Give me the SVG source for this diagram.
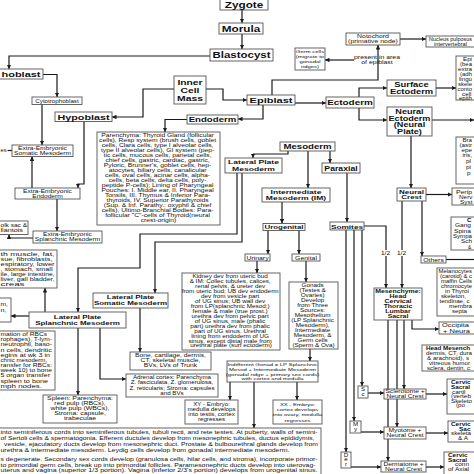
<svg xmlns="http://www.w3.org/2000/svg" width="474" height="474" viewBox="0 0 474 474">
<style>
.bx{fill:#fff;stroke:#555;stroke-width:.9}
.ln{fill:none;stroke:#1a1a1a;stroke-width:1.2}
.ar{marker-end:url(#a)}
text{font-family:"Liberation Sans",Arial,sans-serif;fill:#111}
.B{font-weight:bold}
.m{text-anchor:middle}
.e{text-anchor:end}
.lb{fill:#fff}
</style>
<defs>
<marker id="a" viewBox="0 0 10 10" refX="10" refY="5" markerWidth="4.5" markerHeight="4.5" orient="auto" markerUnits="userSpaceOnUse"><path d="M0,0 L10,5 L0,10 z" fill="#1a1a1a"/></marker>
</defs>
<rect width="474" height="474" fill="#fff"/>
<g id="connectors">
<path class="ln ar" d="M242 10 V23"/>
<path class="ln ar" d="M242 34 V49"/>
<path class="ln ar" d="M210 56 H9 V69"/>
<path class="ln ar" d="M43 74.5 H57 V97"/>
<path class="ln ar" d="M42 104.5 V145"/>
<path class="ln" d="M7.5 150.5 H12"/>
<path class="ln ar" d="M174 89 H143 V117 H112"/>
<path class="ln ar" d="M206 89 H223 V100 H247"/>
<path class="ln ar" d="M263 105 V119 H238"/>
<path class="ln ar" d="M187 119.5 H165 V132"/>
<path class="ln ar" d="M84 121.5 V184 H78 V188"/>
<path class="ln ar" d="M32 188 V156.5"/>
<path class="ln ar" d="M57 199 V231"/>
<path class="ln ar" d="M33 238 H9 V234.5"/>
<path class="ln ar" d="M354 60 H325"/>
<path class="ln ar" d="M272 95 V80 H378 V45"/>
<path class="ln ar" d="M400 39 H426"/>
<path class="ln ar" d="M295 103 H326"/>
<path class="ln ar" d="M359 97 V88 H387"/>
<path class="ln ar" d="M359 108 V120 H387"/>
<path class="ln ar" d="M436 88 H456"/>
<path class="ln ar" d="M432 120 H474"/>
<path class="ln ar" d="M411 136 V188"/>
<path class="ln ar" d="M426 194.5 H452"/>
<path class="ln ar" d="M402 201 V288"/>
<path class="ln ar" d="M422 201 V256"/>
<path class="ln" d="M446 259.5 H474"/>
<path class="ln ar" d="M364 226 H386 V288"/>
<path class="ln" d="M288 151 V154 H253"/>
<path class="ln ar" d="M253 154 V158"/>
<path class="ln ar" d="M308 151 V188"/>
<path class="ln ar" d="M330 151 V163"/>
<path class="ln ar" d="M347 173 V222"/>
<path class="ln ar" d="M282 202 V223.5"/>
<path class="ln ar" d="M268 230.5 V254"/>
<path class="ln ar" d="M299 230.5 V254"/>
<path class="ln ar" d="M257 261 V273"/>
<path class="ln ar" d="M306 261 V282"/>
<path class="ln ar" d="M310 349 V361"/>
<path class="ln ar" d="M230 382 V400"/>
<path class="ln ar" d="M254 382 V428"/>
<path class="ln ar" d="M297 382 V400"/>
<path class="ln ar" d="M242 173 V242 H155 V293"/>
<path class="ln ar" d="M237 173 V234 H140 V268 H78 V312"/>
<path class="ln ar" d="M45 312 V288"/>
<path class="ln ar" d="M140 308 V352"/>
<path class="ln ar" d="M29 316 H11"/>
<path class="ln ar" d="M78 328 V395"/>
<path class="ln ar" d="M100 328 V379 H126"/>
<path class="ln ar" d="M362 230 V386"/>
<path class="ln ar" d="M354 230 V421"/>
<path class="ln ar" d="M346 230 V452"/>
<path class="ln ar" d="M368 393 H384"/>
<path class="ln ar" d="M361 432 H384"/>
<path class="ln ar" d="M351 467 H381"/>
<path class="ln ar" d="M404 320 V389"/>
<path class="ln ar" d="M397 320 V427"/>
<path class="ln ar" d="M388 320 V461"/>
<path class="ln ar" d="M412 320 V329 H439"/>
<path class="ln ar" d="M426 394 H447"/>
<path class="ln ar" d="M426 433 H448"/>
<path class="ln ar" d="M426 467 H444"/>
<rect class="lb" x="395" y="250" width="13" height="6"/>
<text transform="translate(401.5 255) scale(1.38 1)" class="m" font-size="4.8">1/2</text>
<rect class="lb" x="379" y="250" width="13" height="6"/>
<text transform="translate(385.5 255) scale(1.38 1)" class="m" font-size="4.8">1/2</text>
</g>

<g id="zygote"><rect class="bx" x="220" y="-1" width="48" height="11"/><text transform="translate(244 8.3) scale(1.38 1)" class="B m" font-size="8.5">Zygote</text></g>
<g id="morula"><rect class="bx" x="219" y="23" width="44" height="11"/><text transform="translate(241 32) scale(1.38 1)" class="B m" font-size="8.5">Morula</text></g>
<g id="blastocyst"><rect class="bx" x="210" y="49" width="63" height="12"/><text transform="translate(241.5 58.3) scale(1.38 1)" class="B m" font-size="8.3">Blastocyst</text></g>
<g id="trophoblast"><rect class="bx" x="-5" y="69" width="48" height="10"/><text x="1.5" y="77.2" class="B" font-size="8" textLength="39" lengthAdjust="spacingAndGlyphs">hoblast</text></g>
<g id="cytotrophoblast"><rect class="bx" x="32" y="97" width="50" height="7.5"/><text transform="translate(57 102.7) scale(1.38 1)" class="m" font-size="4.5">Cytotrophoblast</text></g>
<g id="es"><text x="0.5" y="152.3" font-size="5" textLength="6" lengthAdjust="spacingAndGlyphs">es</text></g>
<g id="exsom"><rect class="bx" x="12" y="145" width="61" height="11.5"/><text transform="translate(42.5 0) scale(1.38 1)" class="m" font-size="4.8"><tspan x="0" y="149.8">Extra-Embryonic</tspan><tspan x="0" y="154.8">Somatic Mesoderm</tspan></text></g>
<g id="hypoblast"><rect class="bx" x="55" y="112" width="57" height="9.5"/><text transform="translate(83.5 119.6) scale(1.38 1)" class="B m" font-size="7.8">Hypoblast</text></g>
<g id="icm"><rect class="bx" x="174" y="76" width="32" height="28"/><text transform="translate(190 0) scale(1.38 1)" class="B m" font-size="7.5"><tspan x="0" y="84.8">Inner</tspan><tspan x="0" y="92.8">Cell</tspan><tspan x="0" y="100.8">Mass</tspan></text></g>
<g id="epiblast"><rect class="bx" x="247" y="95" width="48" height="10"/><text transform="translate(271 103) scale(1.38 1)" class="B m" font-size="8">Epiblast</text></g>
<g id="endoderm"><rect class="bx" x="187" y="115" width="51" height="9"/><text transform="translate(212.5 122.3) scale(1.38 1)" class="B m" font-size="7">Endoderm</text></g>
<g id="endoderm-derivs"><rect class="bx" x="97" y="132" width="123" height="93"/><text transform="translate(158.5 0) scale(1.38 1)" class="m" font-size="4.9">
<tspan x="0" y="137.5">Parenchyma: Thyroid Gland (follicular</tspan>
<tspan x="0" y="142.5">cells), Resp system (brush cells, goblet</tspan>
<tspan x="0" y="147.5">cells, Clara cells, type I alveolar cells,</tspan>
<tspan x="0" y="152.5">type II alveolar cells), GI system (pep-</tspan>
<tspan x="0" y="157.5">tic cells, mucous cells, parietal cells,</tspan>
<tspan x="0" y="162.5">chief cells, gastric, cardiac, gastric,</tspan>
<tspan x="0" y="167.5">Pyloric, Brunner's, goblet cells, hep-</tspan>
<tspan x="0" y="172.5">atocytes, biliary cells, canalicular</tspan>
<tspan x="0" y="177.5">cells, oval cells, acinar cells, alpha-</tspan>
<tspan x="0" y="182.5">cells, beta cells, delta cells, poly-</tspan>
<tspan x="0" y="187.5">peptide P-cells); Lining of Pharyngeal</tspan>
<tspan x="0" y="192.5">Pouches: I. Middle ear, II. Pharyngeal</tspan>
<tspan x="0" y="197.5">Tonsils, III. Thymus &amp; Inferior Para-</tspan>
<tspan x="0" y="202.5">thyroids, IV. Superior Parathyroids</tspan>
<tspan x="0" y="207.5">(Sup. &amp; Inf. Parathy.: oxyphil &amp; chief</tspan>
<tspan x="0" y="212.5">cells), Ultimo-Branchial Bodies: Para-</tspan>
<tspan x="0" y="217.5">follicular "C"-cells of Thyroid(neural</tspan>
<tspan x="0" y="222.5">crest-origin)</tspan></text></g>
<g id="exendo"><rect class="bx" x="15" y="188" width="65" height="11"/><text transform="translate(47.5 0) scale(1.38 1)" class="m" font-size="4.8"><tspan x="0" y="192.8">Extra-Embryonic</tspan><tspan x="0" y="197.8">Endoderm</tspan></text></g>
<g id="exsplanch"><rect class="bx" x="33" y="231" width="69" height="12"/><text transform="translate(67.5 0) scale(1.38 1)" class="m" font-size="4.8"><tspan x="0" y="236">Extra-Embryonic</tspan><tspan x="0" y="241">Splanchnic Mesoderm</tspan></text></g>
<g id="yolk"><rect class="bx" x="-10" y="221" width="38" height="13.5"/><text font-size="5"><tspan x="0.5" y="226.8" textLength="26.5" lengthAdjust="spacingAndGlyphs">olk sac &amp;</tspan><tspan x="0.5" y="232.3" textLength="22.5" lengthAdjust="spacingAndGlyphs">llantois</tspan></text></g>

<g id="germ"><rect class="bx" x="295" y="48" width="30" height="22"/><text transform="translate(310 0) scale(1.38 1)" class="m" font-size="4.3"><tspan x="0" y="53.5">Germ cells</tspan><tspan x="0" y="58.5">(migrate to</tspan><tspan x="0" y="63.5">gonadal</tspan><tspan x="0" y="68.5">ridges)</tspan></text></g>
<g id="present"><text transform="translate(377 0) scale(1.38 1)" class="m" font-size="5"><tspan x="0" y="59">present in area</tspan><tspan x="0" y="64.5">of epiblast</tspan></text></g>
<g id="notochord"><rect class="bx" x="346" y="33" width="54" height="12"/><text transform="translate(373 0) scale(1.38 1)" class="m" font-size="5"><tspan x="0" y="38.5">Notochord</tspan><tspan x="0" y="43.5">(primative node)</tspan></text></g>
<g id="nucleus"><rect class="bx" x="426" y="36" width="60" height="11"/><text font-size="4.6"><tspan x="429" y="41" textLength="43" lengthAdjust="spacingAndGlyphs">Nucleus pulposus</tspan><tspan x="434" y="46" textLength="33" lengthAdjust="spacingAndGlyphs">intervertebral</tspan></text></g>
<g id="ectoderm"><rect class="bx" x="326" y="97" width="48" height="11"/><text transform="translate(350 105.3) scale(1.38 1)" class="B m" font-size="7.2">Ectoderm</text></g>
<g id="surface"><rect class="bx" x="387" y="80" width="49" height="16"/><text transform="translate(411.5 0) scale(1.38 1)" class="B m" font-size="6.8"><tspan x="0" y="87.3">Surface</tspan><tspan x="0" y="94">Ectoderm</tspan></text></g>
<g id="epi"><rect class="bx" x="456" y="56" width="30" height="44"/><text font-size="4.6"><tspan x="463" y="61" textLength="9" lengthAdjust="spacingAndGlyphs">Epi</tspan><tspan x="460" y="66" textLength="12" lengthAdjust="spacingAndGlyphs">(bea</tspan><tspan x="458" y="71" textLength="14" lengthAdjust="spacingAndGlyphs">extra</tspan><tspan x="460" y="76" textLength="12" lengthAdjust="spacingAndGlyphs">(adh</tspan><tspan x="459" y="81" textLength="13" lengthAdjust="spacingAndGlyphs">lingu</tspan><tspan x="458" y="86" textLength="14" lengthAdjust="spacingAndGlyphs">skele</tspan><tspan x="457.5" y="91" textLength="14.5" lengthAdjust="spacingAndGlyphs">conto</tspan><tspan x="462" y="96" textLength="9.5" lengthAdjust="spacingAndGlyphs">cell</tspan><tspan x="459" y="100" textLength="13" lengthAdjust="spacingAndGlyphs">epith</tspan></text></g>
<g id="neuralecto"><rect class="bx" x="387" y="107" width="45" height="29"/><text transform="translate(409.5 0) scale(1.38 1)" class="B m" font-size="6.6"><tspan x="0" y="114">Neural</tspan><tspan x="0" y="120.8">Ectoderm</tspan><tspan x="0" y="127.5">(Neural</tspan><tspan x="0" y="134">Plate)</tspan></text></g>
<g id="brain"><rect class="bx" x="456" y="137" width="30" height="47"/><text font-size="4.6"><tspan x="462.5" y="142" textLength="9.5" lengthAdjust="spacingAndGlyphs">Bra</tspan><tspan x="459.5" y="147" textLength="12.5" lengthAdjust="spacingAndGlyphs">(astr</tspan><tspan x="461.5" y="152" textLength="10.5" lengthAdjust="spacingAndGlyphs">epe</tspan><tspan x="462.5" y="157" textLength="9.5" lengthAdjust="spacingAndGlyphs">iris,</tspan><tspan x="466" y="163" textLength="5" lengthAdjust="spacingAndGlyphs">pl</tspan><tspan x="466" y="169" textLength="5" lengthAdjust="spacingAndGlyphs">pi</tspan><tspan x="467" y="175" textLength="3.5" lengthAdjust="spacingAndGlyphs">p</tspan></text></g>
<g id="neuralcrest"><rect class="bx" x="397" y="188" width="29" height="13"/><text transform="translate(411.5 0) scale(1.38 1)" class="B m" font-size="5.8"><tspan x="0" y="193.8">Neural</tspan><tspan x="0" y="199.5">Crest</tspan></text></g>
<g id="peripheral"><rect class="bx" x="452" y="188" width="30" height="17"/><text font-size="5"><tspan x="456" y="193.5" textLength="16" lengthAdjust="spacingAndGlyphs">Perip</tspan><tspan x="459" y="198.5" textLength="13.5" lengthAdjust="spacingAndGlyphs">Nerv</tspan><tspan x="460" y="203.5" textLength="12.5" lengthAdjust="spacingAndGlyphs">Syst</tspan></text></g>
<g id="ganglia"><rect class="bx" x="451" y="217" width="30" height="33"/><text font-size="4.8"><tspan x="467" y="222" class="B" textLength="4.5" lengthAdjust="spacingAndGlyphs">C</tspan><tspan x="455" y="227" textLength="16" lengthAdjust="spacingAndGlyphs">Gang</tspan><tspan x="454" y="232.5" textLength="17" lengthAdjust="spacingAndGlyphs">Spina</tspan><tspan x="453" y="237.5" textLength="19" lengthAdjust="spacingAndGlyphs">Sympa</tspan><tspan x="461" y="243" textLength="11" lengthAdjust="spacingAndGlyphs">Sch</tspan><tspan x="468" y="248.5">&amp;</tspan></text></g>
<g id="others"><rect class="bx" x="421" y="256" width="25" height="7"/><text transform="translate(433.5 261.8) scale(1.38 1)" class="m" font-size="5">Others</text></g>
<g id="melanocytes"><rect class="bx" x="437" y="268" width="50" height="48"/><text font-size="4.6"><tspan x="438.5" y="273" textLength="33.5" lengthAdjust="spacingAndGlyphs">Melanocytes</tspan><tspan x="440" y="278" textLength="32" lengthAdjust="spacingAndGlyphs">(carotid) &amp; c</tspan><tspan x="441" y="283" textLength="31" lengthAdjust="spacingAndGlyphs">maffin Cells</tspan><tspan x="441" y="288" textLength="31" lengthAdjust="spacingAndGlyphs">chromocyte</tspan><tspan x="445" y="293" textLength="24" lengthAdjust="spacingAndGlyphs">in Thyroi</tspan><tspan x="441" y="298" textLength="25" lengthAdjust="spacingAndGlyphs">skeleton,</tspan><tspan x="439.5" y="303" textLength="30" lengthAdjust="spacingAndGlyphs">tendinae, c</tspan><tspan x="449" y="308" textLength="23" lengthAdjust="spacingAndGlyphs">membra</tspan><tspan x="452" y="313" textLength="15" lengthAdjust="spacingAndGlyphs">septa</tspan></text></g>
<g id="mesoderm"><rect class="bx" x="280" y="142" width="55" height="9"/><text transform="translate(307.5 149.3) scale(1.38 1)" class="B m" font-size="7">Mesoderm</text></g>
<g id="lpm"><rect class="bx" x="225" y="158" width="57" height="15"/><text transform="translate(253.5 0) scale(1.38 1)" class="B m" font-size="6.2"><tspan x="0" y="164.5">Lateral Plate</tspan><tspan x="0" y="171">Mesoderm</tspan></text></g>
<g id="paraxial"><rect class="bx" x="322" y="163" width="38" height="10"/><text transform="translate(341 170.5) scale(1.38 1)" class="B m" font-size="6.3">Paraxial</text></g>
<g id="im"><rect class="bx" x="262" y="188" width="68" height="14"/><text transform="translate(296 0) scale(1.38 1)" class="B m" font-size="6.2"><tspan x="0" y="194">Intermediate</tspan><tspan x="0" y="200.5">Mesoderm (IM)</tspan></text></g>
<g id="urogenital"><rect class="bx" x="263" y="223.5" width="42" height="7"/><text transform="translate(284 229.3) scale(1.38 1)" class="B m" font-size="5.7">Urogenital</text></g>
<g id="urinary"><rect class="bx" x="245" y="254" width="25" height="7"/><text transform="translate(257.5 259.7) scale(1.38 1)" class="m" font-size="5">Urinary</text></g>
<g id="genital"><rect class="bx" x="292" y="254" width="28" height="7"/><text transform="translate(306 259.7) scale(1.38 1)" class="m" font-size="5">Genital</text></g>
<g id="kidney"><rect class="bx" x="182" y="273" width="98" height="77"/><text transform="translate(231 0) scale(1.38 1)" class="m" font-size="4.6">
<tspan x="0" y="278.5">Kidney dev from uteric bud</tspan>
<tspan x="0" y="283.4">&amp; IM: Collec tubules, calices,</tspan>
<tspan x="0" y="288.4">renal pelvis, &amp; ureter dev</tspan>
<tspan x="0" y="293.3">from uteric bud; UB dev endoderm</tspan>
<tspan x="0" y="298.2">dev from vesicle part</tspan>
<tspan x="0" y="303.2">of UG sinus; UB wall dev</tspan>
<tspan x="0" y="308.1">from LP(splanchnic Mesod;)</tspan>
<tspan x="0" y="313">female &amp; male (true prost.)</tspan>
<tspan x="0" y="318">urethra dev from pelvic part</tspan>
<tspan x="0" y="322.9">of UG sinus, male (phalic</tspan>
<tspan x="0" y="327.8">part) urethra dev from phalic</tspan>
<tspan x="0" y="332.7">part of UG sinus. Urethral</tspan>
<tspan x="0" y="337.7">lining from endoderm of UG</tspan>
<tspan x="0" y="342.6">sinus, except distal male from</tspan>
<tspan x="0" y="347.5">urethral plate (surf ectoderm)</tspan></text></g>
<g id="gonads"><rect class="bx" x="289" y="282" width="49" height="67"/><text transform="translate(313.5 0) scale(1.38 1)" class="m" font-size="4.6">
<tspan x="0" y="287">Gonads</tspan>
<tspan x="0" y="292">(Testes &amp;</tspan>
<tspan x="0" y="297">Ovaries)</tspan>
<tspan x="0" y="302">Develop</tspan>
<tspan x="0" y="306.9">from Three</tspan>
<tspan x="0" y="311.9">Sources:</tspan>
<tspan x="0" y="316.9">Mesothelium</tspan>
<tspan x="0" y="321.9">(LP Splanchnic</tspan>
<tspan x="0" y="326.8">Mesoderm),</tspan>
<tspan x="0" y="331.8">Intermediate</tspan>
<tspan x="0" y="336.8">Mesoderm, &amp;</tspan>
<tspan x="0" y="341.8">Germ cells</tspan>
<tspan x="0" y="346.8">(Sperm &amp; Ova)</tspan></text></g>
<g id="indifferent"><rect class="bx" x="227" y="361" width="91" height="21"/><text transform="translate(272.5 0) scale(1.38 1)" class="m" font-size="4.3"><tspan x="0" y="366">Indifferent Gonad = LP Splanchnic</tspan><tspan x="0" y="370.8">Mesod + Intermediate Mesoderm</tspan><tspan x="0" y="375.6">(gonadal ridge + primary sex cords)</tspan><tspan x="0" y="380.4">with cortex and medulla</tspan></text></g>
<g id="xy"><rect class="bx" x="185" y="400" width="53" height="24"/><text transform="translate(211.5 0) scale(1.38 1)" class="m" font-size="4.5"><tspan x="0" y="406.5">XY - Embryo:</tspan><tspan x="0" y="411.5">medulla develops</tspan><tspan x="0" y="416.5">into testis, cortex</tspan><tspan x="0" y="421.5">regresses</tspan></text></g>
<g id="xx"><rect class="bx" x="273" y="400" width="49" height="24"/><text transform="translate(297.5 0) scale(1.38 1)" class="m" font-size="4.3"><tspan x="0" y="406">XX - Embryo:</tspan><tspan x="0" y="411">cortex develops</tspan><tspan x="0" y="416">into ovary, medulla</tspan><tspan x="0" y="422">regresses</tspan></text></g>
<g id="puberty"><rect class="bx" x="-5" y="428" width="326" height="50"/><text font-size="5">
<tspan x="0.5" y="434.3" textLength="317" lengthAdjust="spacingAndGlyphs">into seminiferous cords into seminiferous tubules, tubuli recti, and rete testes. At puberty, walls of semini-</tspan>
<tspan x="0.5" y="440.3" textLength="314" lengthAdjust="spacingAndGlyphs">of Sertoli cells &amp; spermatogonia. Efferent ductules develop from mesonephric tubules, ductus epididymis,</tspan>
<tspan x="4" y="446.3" textLength="314" lengthAdjust="spacingAndGlyphs">vesicle, ejaculatory ducts develop from mesonephric duct. Prostate &amp; bulbourethral glands develop from</tspan>
<tspan x="0.5" y="452.2" textLength="289" lengthAdjust="spacingAndGlyphs">urethra &amp; intermediate mesoderm. Leydig cells develop from gonadal intermediate mesoderm.</tspan>
<tspan x="0.5" y="460.5" textLength="317" lengthAdjust="spacingAndGlyphs">s degenerate. Secondary sex cords develop (granulosa cells, hilar cells, and stroma), incorporate primor-</tspan>
<tspan x="0.5" y="466.5" textLength="315" lengthAdjust="spacingAndGlyphs">to primordial germ cells, break up into primordial follicles. Paramesonephric ducts develop into uterovag-</tspan>
<tspan x="0.5" y="472.3" textLength="317" lengthAdjust="spacingAndGlyphs">uterus and vagina (superior 1/3 portion). Vagina (inferior 2/3's portion) develops from urogenital sinus.</tspan></text></g>
<g id="smooth"><rect class="bx" x="-5" y="250" width="62" height="38"/><text font-size="5"><tspan x="0.5" y="255.5" textLength="54" lengthAdjust="spacingAndGlyphs">th muscle, fat,</tspan><tspan x="0.5" y="260.5" textLength="52" lengthAdjust="spacingAndGlyphs">sue, fibroblasts,</tspan><tspan x="0.5" y="265.5" textLength="54" lengthAdjust="spacingAndGlyphs">espiratory, lower</tspan><tspan x="0.5" y="270.5" textLength="52" lengthAdjust="spacingAndGlyphs">, stomach, small</tspan><tspan x="0.5" y="275.5" textLength="54" lengthAdjust="spacingAndGlyphs">ile, large intestine,</tspan><tspan x="0.5" y="280.5" textLength="54" lengthAdjust="spacingAndGlyphs">liver, gall bladder,</tspan><tspan x="0.5" y="285.5" textLength="24" lengthAdjust="spacingAndGlyphs">creas</tspan></text></g>
<g id="somatic"><rect class="bx" x="93" y="293" width="75" height="15"/><text transform="translate(130.5 0) scale(1.38 1)" class="B m" font-size="5.8"><tspan x="0" y="299.2">Lateral Plate</tspan><tspan x="0" y="305.5">Somatic Mesoderm</tspan></text></g>
<g id="bone"><rect class="bx" x="130" y="352" width="81" height="18"/><text transform="translate(170.5 0) scale(1.38 1)" class="m" font-size="4.9"><tspan x="0" y="357.5">Bone, cartilage, dermis,</tspan><tspan x="0" y="362.5">CT, skeletal muscle,</tspan><tspan x="0" y="367.5">BVs, LVs of Trunk</tspan></text></g>
<g id="splanchnic"><rect class="bx" x="29" y="312" width="97" height="16"/><text transform="translate(77.5 0) scale(1.38 1)" class="B m" font-size="5.8"><tspan x="0" y="319.3">Lateral Plate</tspan><tspan x="0" y="325.5">Splanchnic Mesoderm</tspan></text></g>
<g id="leftbox"><rect class="bx" x="-5" y="298" width="16" height="24"/><text font-size="5"><tspan x="0.5" y="305.5" textLength="7.5" lengthAdjust="spacingAndGlyphs">m,</tspan><tspan x="0.5" y="312" textLength="6" lengthAdjust="spacingAndGlyphs">n,</tspan></text></g>
<g id="rbc"><rect class="bx" x="-5" y="331" width="60" height="59"/><text font-size="5">
<tspan x="0.5" y="336" textLength="46.5" lengthAdjust="spacingAndGlyphs">mation of RBCs</tspan>
<tspan x="0.5" y="341.2" textLength="51.5" lengthAdjust="spacingAndGlyphs">rophages), T-lym-</tspan>
<tspan x="0.5" y="346.3" textLength="51.5" lengthAdjust="spacingAndGlyphs">neutrophil, baso-</tspan>
<tspan x="0.5" y="351.5" textLength="51.5" lengthAdjust="spacingAndGlyphs">n cells, dendritic</tspan>
<tspan x="0.5" y="356.7" textLength="49.5" lengthAdjust="spacingAndGlyphs">egins at wk 3 in</tspan>
<tspan x="0.5" y="361.8" textLength="46.5" lengthAdjust="spacingAndGlyphs">chnic mesoderm,</tspan>
<tspan x="0.5" y="367" textLength="51.5" lengthAdjust="spacingAndGlyphs">ransfer for RBCs:</tspan>
<tspan x="0.5" y="372.2" textLength="51.5" lengthAdjust="spacingAndGlyphs">week 10) to bone</tspan>
<tspan x="0.5" y="377.3" textLength="49.5" lengthAdjust="spacingAndGlyphs">5 organ transfer</tspan>
<tspan x="0.5" y="382.5" textLength="47.5" lengthAdjust="spacingAndGlyphs">spleen to bone</tspan>
<tspan x="0.5" y="387.7" textLength="41.5" lengthAdjust="spacingAndGlyphs">mph nodes.</tspan></text></g>
<g id="spleen"><rect class="bx" x="43" y="395" width="74" height="28"/><text transform="translate(80 0) scale(1.38 1)" class="m" font-size="5"><tspan x="0" y="400.5">Spleen: Parenchyma:</tspan><tspan x="0" y="405.5">red pulp (RBCs),</tspan><tspan x="0" y="410.5">white pulp (WBCs),</tspan><tspan x="0" y="415.5">Stroma: capsule,</tspan><tspan x="0" y="420.5">trabeculae</tspan></text></g>
<g id="adrenal"><rect class="bx" x="126" y="374" width="92" height="23"/><text transform="translate(172 0) scale(1.38 1)" class="m" font-size="4.5"><tspan x="0" y="379">Adrenal cortex: Parenchyma</tspan><tspan x="0" y="384.2">Z. fasciculata, Z. glomerulosa,</tspan><tspan x="0" y="389.6">Z. reticularis; Stroma: capsules</tspan><tspan x="0" y="394.8">and BVs</tspan></text></g>
<g id="somites"><rect class="bx" x="330" y="222" width="34" height="8"/><text transform="translate(347 228.5) scale(1.38 1)" class="B m" font-size="6">Somites</text></g>
<g id="mesenchyme"><rect class="bx" x="374" y="288" width="48" height="32"/><text transform="translate(398 0) scale(1.38 1)" class="B m" font-size="5"><tspan x="0" y="293.5">Mesenchyme:</tspan><tspan x="0" y="298.5">Head</tspan><tspan x="0" y="303.5">Cervical</tspan><tspan x="0" y="308.5">Thoracic</tspan><tspan x="0" y="313.5">Lumbar</tspan><tspan x="0" y="318.5">Sacral</tspan></text></g>
<g id="occipital"><rect class="bx" x="439" y="322" width="45" height="12"/><text font-size="5"><tspan x="442" y="327.3" textLength="27" lengthAdjust="spacingAndGlyphs">Occipita</tspan><tspan x="443" y="332.5" textLength="27" lengthAdjust="spacingAndGlyphs">+ Neura</tspan></text></g>
<g id="headmes"><rect class="bx" x="422" y="345" width="60" height="26"/><text font-size="4.5"><tspan x="426" y="350" class="B" textLength="44" lengthAdjust="spacingAndGlyphs">Head Mesench</tspan><tspan x="426" y="355" textLength="46" lengthAdjust="spacingAndGlyphs">dermis, CT, dura</tspan><tspan x="427" y="360" textLength="42" lengthAdjust="spacingAndGlyphs">&amp; arachnoid), s</tspan><tspan x="429" y="365" textLength="41" lengthAdjust="spacingAndGlyphs">vitreous humor</tspan><tspan x="427" y="370" textLength="43" lengthAdjust="spacingAndGlyphs">sclera, dentin, c</tspan></text></g>
<g id="sc"><rect class="bx" x="358" y="386" width="10" height="12"/><text transform="translate(363 0) scale(1.38 1)" class="m" font-size="4.5"><tspan x="0" y="391">S</tspan><tspan x="0" y="396">c</tspan></text></g>
<g id="my"><rect class="bx" x="350" y="421" width="11" height="12"/><text transform="translate(355.5 0) scale(1.38 1)" class="m" font-size="4.5"><tspan x="0" y="426">M</tspan><tspan x="0" y="431">y</tspan></text></g>
<g id="der"><rect class="bx" x="341" y="452" width="10" height="16"/><text transform="translate(346 0) scale(1.38 1)" class="m" font-size="4.5"><tspan x="0" y="457">D</tspan><tspan x="0" y="461.5">e</tspan><tspan x="0" y="466.5">r</tspan></text></g>
<g id="sclerotome"><rect class="bx" x="384" y="389" width="42" height="10"/><text transform="translate(405 0) scale(1.38 1)" class="m" font-size="4.8"><tspan x="0" y="393.5">Sclerotome +</tspan><tspan x="0" y="398.2">Neural Crest</tspan></text></g>
<g id="myotome"><rect class="bx" x="384" y="427" width="42" height="12"/><text transform="translate(405 0) scale(1.38 1)" class="m" font-size="4.8"><tspan x="0" y="432.3">Myotome +</tspan><tspan x="0" y="437.5">Neural Crest</tspan></text></g>
<g id="dermatome"><rect class="bx" x="381" y="461" width="45" height="11"/><text transform="translate(403.5 0) scale(1.38 1)" class="m" font-size="4.8"><tspan x="0" y="466">Dermatome +</tspan><tspan x="0" y="471">Neural Crest</tspan></text></g>
<g id="cerv1"><rect class="bx" x="447" y="379" width="40" height="35"/><text font-size="4.6"><tspan x="451" y="384" class="B" textLength="19.5" lengthAdjust="spacingAndGlyphs">Cervic</tspan><tspan x="451" y="389" class="B" textLength="19" lengthAdjust="spacingAndGlyphs">Sacral</tspan><tspan x="452" y="393.5" textLength="13.5" lengthAdjust="spacingAndGlyphs">cartil</tspan><tspan x="451" y="398" textLength="20" lengthAdjust="spacingAndGlyphs">(verteb</tspan><tspan x="451" y="402.5" textLength="21" lengthAdjust="spacingAndGlyphs">Skeleto</tspan><tspan x="456" y="407" textLength="9" lengthAdjust="spacingAndGlyphs">(po</tspan></text></g>
<g id="cerv2"><rect class="bx" x="448" y="421" width="40" height="21"/><text font-size="4.6"><tspan x="451" y="426" class="B" textLength="19.5" lengthAdjust="spacingAndGlyphs">Cervic</tspan><tspan x="459" y="430.5" class="B" textLength="11.5" lengthAdjust="spacingAndGlyphs">Sac</tspan><tspan x="451" y="435" textLength="20" lengthAdjust="spacingAndGlyphs">skeleta</tspan><tspan x="458" y="439.5" textLength="10" lengthAdjust="spacingAndGlyphs">&amp; A</tspan></text></g>
<g id="cerv3"><rect class="bx" x="444" y="452" width="40" height="25"/><text font-size="4.6"><tspan x="448" y="457" class="B" textLength="19.5" lengthAdjust="spacingAndGlyphs">Cervic</tspan><tspan x="448" y="461.5" class="B" textLength="19" lengthAdjust="spacingAndGlyphs">Sacral</tspan><tspan x="455" y="466" textLength="14" lengthAdjust="spacingAndGlyphs">conn</tspan><tspan x="448" y="470.5" textLength="21" lengthAdjust="spacingAndGlyphs">of Axial</tspan></text></g>
</svg>
